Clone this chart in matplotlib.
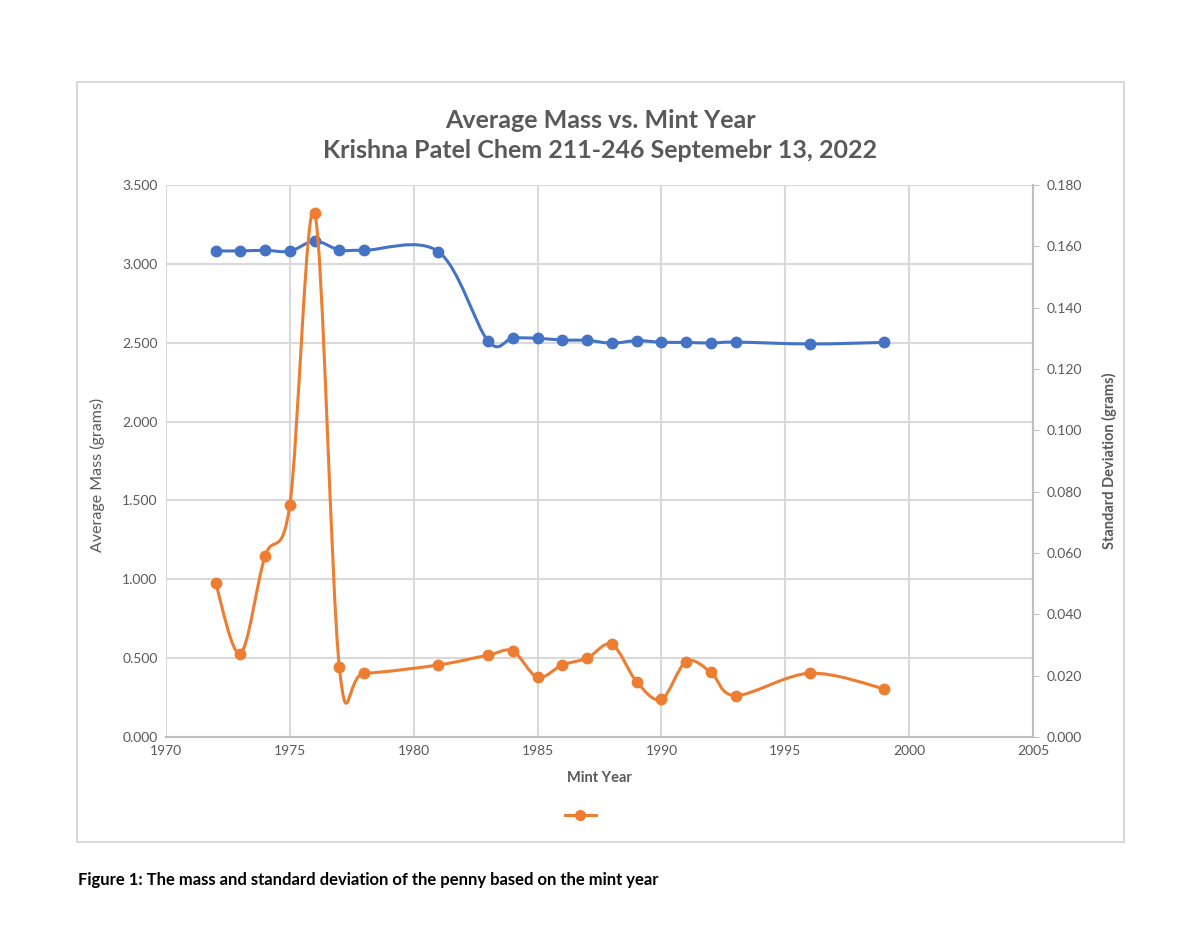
import matplotlib
matplotlib.use("Agg")
import matplotlib.pyplot as plt
from matplotlib.path import Path
from matplotlib.patches import PathPatch, Rectangle
from matplotlib.lines import Line2D

plt.rcParams["font.family"] = ["Lato", "DejaVu Sans"]

# data
years = [1972, 1973, 1974, 1975, 1976, 1977, 1978, 1981, 1983, 1984, 1985,
         1986, 1987, 1988, 1989, 1990, 1991, 1992, 1993, 1996, 1999]
avg_mass = [3.082, 3.082, 3.086, 3.080, 3.145, 3.088, 3.086, 3.077, 2.511, 2.530, 2.528,
            2.517, 2.515, 2.497, 2.513, 2.503, 2.502, 2.498, 2.504, 2.492, 2.502]
std_dev = [0.0503, 0.0272, 0.0590, 0.0757, 0.1710, 0.0227, 0.0208, 0.0235, 0.0267, 0.0280,
           0.0195, 0.0235, 0.0257, 0.0302, 0.0180, 0.0123, 0.0246, 0.0211, 0.0135, 0.0208, 0.0157]

blue = "#4472C4"
orange = "#ED7D31"
grid_col = "#D9D9D9"
text_col = "#595959"


def smooth_path(xs, ys):
    # Excel style smoothed line: Catmull-Rom segments as cubic Beziers
    pts = list(zip(xs, ys))
    verts = [pts[0]]
    codes = [Path.MOVETO]
    n = len(pts)
    for i in range(n - 1):
        p0 = pts[i - 1] if i > 0 else pts[i]
        p1 = pts[i]
        p2 = pts[i + 1]
        p3 = pts[i + 2] if i + 2 < n else pts[i + 1]
        c1 = (p1[0] + (p2[0] - p0[0]) / 6, p1[1] + (p2[1] - p0[1]) / 6)
        c2 = (p2[0] - (p3[0] - p1[0]) / 6, p2[1] - (p3[1] - p1[1]) / 6)
        verts += [c1, c2, p2]
        codes += [Path.CURVE4] * 3
    return Path(verts, codes)


fig = plt.figure(figsize=(12, 9.27), dpi=100)
fig.patches.append(Rectangle((77 / 1200, 1 - 842 / 927), 1047 / 1200, 760 / 927,
                             transform=fig.transFigure, fill=False,
                             edgecolor=grid_col, linewidth=1.5))

ax = fig.add_axes([166 / 1200, 1 - 737 / 927, 867 / 1200, 552 / 927])
ax2 = ax.twinx()

ax.set_xlim(1970, 2005)
ax.set_ylim(0, 3.5)
ax2.set_ylim(0, 0.18)
ax.set_xticks(range(1970, 2006, 5))
ax.set_yticks([i * 0.5 for i in range(8)])
ax2.set_yticks([i * 0.02 for i in range(10)])
ax.yaxis.set_major_formatter(matplotlib.ticker.FormatStrFormatter("%.3f"))
ax2.yaxis.set_major_formatter(matplotlib.ticker.FormatStrFormatter("%.3f"))

ax.grid(True, color=grid_col, linewidth=1.5)
ax.set_axisbelow(True)
for a in (ax, ax2):
    for s in a.spines.values():
        s.set_visible(False)
ax.spines["bottom"].set_visible(True)
ax.spines["bottom"].set_color("#BFBFBF")
ax.spines["bottom"].set_linewidth(1.5)
ax2.spines["right"].set_visible(True)
ax2.spines["right"].set_color("#BFBFBF")
ax2.spines["right"].set_linewidth(1.5)

ax.tick_params(axis="both", length=0, labelsize=10, labelcolor=text_col, pad=6)
ax2.tick_params(axis="y", length=4, color="#BFBFBF", labelsize=10, labelcolor=text_col, pad=6)

ax.add_patch(PathPatch(smooth_path(years, avg_mass), fill=False, edgecolor=blue,
                       linewidth=2.2, zorder=3))
ax.plot(years, avg_mass, "o", color=blue, markersize=7.5, zorder=4)
ax2.add_patch(PathPatch(smooth_path(years, std_dev), fill=False, edgecolor=orange,
                        linewidth=2.2, zorder=3))
ax2.plot(years, std_dev, "o", color=orange, markersize=7.5, zorder=4)

ax.set_xlabel("Mint Year", fontsize=10.5, fontweight="bold", color=text_col, labelpad=10)
ax.set_ylabel("Average Mass (grams)", fontsize=11.5, color=text_col)
ax.yaxis.set_label_coords(-0.070, 0.475)
ax2.set_ylabel("Standard Deviation (grams)", fontsize=10.5, fontweight="bold",
               color=text_col, labelpad=14)

fig.text(0.5, 1 - 120 / 927, "Average Mass vs. Mint Year", ha="center", va="center",
         fontsize=18, fontweight="bold", color=text_col)
fig.text(0.5, 1 - 151 / 927, "Krishna Patel Chem 211-246 Septemebr 13, 2022", ha="center",
         va="center", fontsize=18, fontweight="bold", color=text_col)

handle = Line2D([], [], color=orange, marker="o", linewidth=2.2, markersize=7)
fig.legend([handle], [""], loc="center", bbox_to_anchor=(586 / 1200, 1 - 816 / 927),
           frameon=False, handlelength=2.2)

fig.text(78 / 1200, 1 - 880 / 927,
         "Figure 1: The mass and standard deviation of the penny based on the mint year",
         ha="left", va="center", fontsize=12, fontweight="bold", color="black")

fig.savefig("out.png", dpi=100)
